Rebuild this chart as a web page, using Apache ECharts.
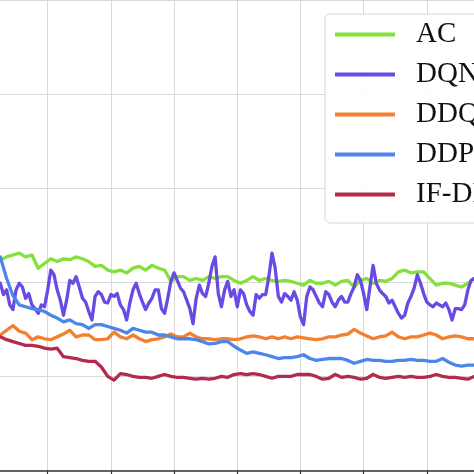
<!DOCTYPE html>
<html>
<head>
<meta charset="utf-8">
<style>
    html, body { margin: 0; padding: 0; background: #fff; }
    #main { width: 474px; height: 474px; }
</style>
<script src="https://cdn.jsdelivr.net/npm/echarts@6/dist/echarts.min.js"></script>
</head>
<body>
<div id="main"></div>
<script>
// episodes (x)
var episodes = [25, 35, 45, 55, 65, 75, 85, 95, 105, 115,
    125, 135, 145, 155, 165, 175, 185, 195, 205, 215,
    225, 235, 245, 255, 265, 275, 285, 295, 305, 315,
    325, 335, 345, 355, 365, 375, 385, 395, 405, 415,
    425, 435, 445, 455, 465, 475, 485, 495, 505, 515,
    525, 535, 545, 555, 565, 575, 585, 595, 605, 615,
    625, 635, 645, 655, 665, 675, 685, 695, 705, 715,
    725, 735, 745, 755, 765, 775];

// DQN is much noisier, so it is read twice as densely
var dqnEpisodes = [25, 30, 35, 40, 45, 50, 55, 60, 65, 70,
    75, 80, 85, 90, 95, 100, 105, 110, 115, 120,
    125, 130, 135, 140, 145, 150, 155, 160, 165, 170,
    175, 180, 185, 190, 195, 200, 205, 210, 215, 220,
    225, 230, 235, 240, 245, 250, 255, 260, 265, 270,
    275, 280, 285, 290, 295, 300, 305, 310, 315, 320,
    325, 330, 335, 340, 345, 350, 355, 360, 365, 370,
    375, 380, 385, 390, 395, 400, 405, 410, 415, 420,
    425, 430, 435, 440, 445, 450, 455, 460, 465, 470,
    475, 480, 485, 490, 495, 500, 505, 510, 515, 520,
    525, 530, 535, 540, 545, 550, 555, 560, 565, 570,
    575, 580, 585, 590, 595, 600, 605, 610, 615, 620,
    625, 630, 635, 640, 645, 650, 655, 660, 665, 670,
    675, 680, 685, 690, 695, 700, 705, 710, 715, 720,
    725, 730, 735, 740, 745, 750, 755, 760, 765, 770,
    775];

var names = ['AC', 'DQN', 'DDQN', 'DDPG', 'IF-DDPG'];
var colors = ['#84e03a', '#6a4ae4', '#f57f2f', '#4c86ea', '#b42a4c'];

var acData = [2.24, 2.27, 2.29, 2.31, 2.27, 2.29, 2.15, 2.20, 2.25, 2.22,
    2.25, 2.24, 2.27, 2.25, 2.22, 2.17, 2.18, 2.13, 2.11, 2.13,
    2.10, 2.15, 2.17, 2.13, 2.18, 2.15, 2.13, 2.01, 2.06, 2.06,
    2.02, 2.04, 2.02, 2.06, 2.04, 2.06, 2.06, 2.02, 1.99, 2.02,
    2.06, 2.02, 2.04, 2.02, 2.01, 2.02, 2.01, 1.99, 1.97, 2.02,
    1.99, 1.99, 2.01, 1.97, 2.01, 2.02, 1.95, 2.02, 2.04, 1.99,
    2.02, 2.01, 2.04, 2.11, 2.13, 2.10, 2.11, 2.11, 2.04, 1.97,
    1.99, 1.99, 1.97, 1.95, 1.99, 2.04];

var dqnData = [1.99, 1.87, 1.92, 1.76, 1.71, 1.92, 1.99, 1.95, 1.83, 1.88,
    1.76, 1.72, 1.67, 1.76, 1.74, 1.92, 2.13, 2.08, 1.92, 1.81,
    1.65, 1.81, 2.02, 1.99, 2.06, 1.95, 1.83, 1.79, 1.69, 1.60,
    1.85, 1.90, 1.87, 1.79, 1.78, 1.87, 1.85, 1.88, 1.76, 1.71,
    1.60, 1.78, 1.92, 1.99, 1.88, 1.79, 1.71, 1.78, 1.83, 1.92,
    1.92, 1.72, 1.67, 1.83, 2.01, 2.10, 2.02, 1.94, 1.90, 1.81,
    1.72, 1.56, 1.83, 1.97, 1.88, 1.85, 1.99, 2.17, 2.27, 1.88,
    1.74, 1.92, 2.01, 1.85, 1.92, 1.74, 1.92, 1.88, 1.76, 1.69,
    1.65, 1.87, 1.83, 1.87, 1.87, 2.06, 2.31, 2.15, 1.85, 1.79,
    1.88, 1.85, 1.81, 1.90, 1.81, 1.63, 1.55, 1.85, 1.95, 1.92,
    1.85, 1.78, 1.74, 1.90, 1.87, 1.79, 1.74, 1.81, 1.85, 1.79,
    1.79, 1.88, 1.95, 2.08, 2.02, 1.88, 1.71, 1.95, 2.18, 1.99,
    1.92, 1.88, 1.85, 1.78, 1.81, 1.74, 1.67, 1.62, 1.65, 1.78,
    1.85, 1.94, 2.08, 1.99, 1.88, 1.79, 1.76, 1.74, 1.78, 1.76,
    1.74, 1.78, 1.71, 1.60, 1.72, 1.72, 1.71, 1.76, 1.92, 2.02,
    2.04];

var ddqnData = [1.44, 1.49, 1.54, 1.48, 1.46, 1.39, 1.42, 1.40, 1.39, 1.42,
    1.45, 1.49, 1.42, 1.44, 1.44, 1.39, 1.39, 1.40, 1.47, 1.42,
    1.40, 1.44, 1.40, 1.37, 1.39, 1.40, 1.42, 1.45, 1.42, 1.42,
    1.46, 1.42, 1.40, 1.40, 1.39, 1.40, 1.40, 1.39, 1.40, 1.42,
    1.43, 1.42, 1.40, 1.42, 1.40, 1.42, 1.40, 1.42, 1.41, 1.40,
    1.39, 1.40, 1.42, 1.42, 1.44, 1.45, 1.50, 1.46, 1.43, 1.40,
    1.42, 1.43, 1.47, 1.42, 1.40, 1.42, 1.42, 1.44, 1.46, 1.44,
    1.40, 1.42, 1.43, 1.42, 1.40, 1.40];

var ddpgData = [2.27, 2.04, 1.86, 1.76, 1.74, 1.72, 1.71, 1.69, 1.65, 1.62,
    1.58, 1.60, 1.56, 1.55, 1.51, 1.55, 1.55, 1.53, 1.51, 1.49,
    1.46, 1.51, 1.49, 1.47, 1.47, 1.44, 1.44, 1.42, 1.40, 1.40,
    1.40, 1.39, 1.37, 1.345, 1.35, 1.37, 1.37, 1.32, 1.28, 1.245,
    1.26, 1.245, 1.23, 1.21, 1.19, 1.20, 1.20, 1.21, 1.23, 1.19,
    1.17, 1.18, 1.19, 1.19, 1.19, 1.17, 1.14, 1.16, 1.18, 1.17,
    1.17, 1.16, 1.16, 1.17, 1.17, 1.18, 1.17, 1.17, 1.16, 1.16,
    1.19, 1.15, 1.12, 1.11, 1.12, 1.12];

var ifDdpgData = [1.42, 1.39, 1.37, 1.35, 1.33, 1.33, 1.32, 1.30, 1.29, 1.30,
    1.21, 1.20, 1.19, 1.17, 1.16, 1.16, 1.10, 1.00, 0.96, 1.03,
    1.02, 1.00, 0.99, 0.99, 0.98, 1.00, 1.02, 1.00, 0.99, 0.99,
    0.98, 0.97, 0.98, 0.97, 0.98, 1.00, 0.99, 1.02, 1.03, 1.02,
    1.03, 1.02, 1.00, 0.98, 1.00, 1.00, 1.00, 1.02, 1.02, 1.02,
    1.00, 0.97, 0.98, 1.02, 0.99, 1.00, 0.99, 0.97, 0.98, 1.02,
    0.99, 0.98, 0.99, 1.00, 0.99, 1.00, 0.99, 0.99, 1.00, 1.02,
    1.00, 0.99, 0.99, 0.98, 0.97, 1.00];

var allData = [acData, dqnData, ddqnData, ddpgData, ifDdpgData];
var allX = [episodes, dqnEpisodes, episodes, episodes, episodes];

function pairs(xs, ys) {
    var out = [];
    for (var i = 0; i < ys.length; i++) {
        out.push([xs[i], ys[i]]);
    }
    return out;
}

var myChart = echarts.init(document.getElementById('main'));

var series = [];
for (var k = 0; k < names.length; k++) {
    series.push({
        name: names[k],
        type: 'line',
        data: pairs(allX[k], allData[k]),
        showSymbol: false,
        lineStyle: { width: 3.3, color: colors[k], join: 'round', cap: 'round' },
        itemStyle: { color: colors[k] }
    });
}

var option = {
    animation: false,
    backgroundColor: '#fff',
    // the picture is a crop: the plot area runs past the image edges
    grid: {
        left: -15.5,
        right: -16,
        top: 0,
        bottom: 3.5,
        containLabel: false,
        outerBoundsMode: 'none'
    },
    legend: {
        orient: 'vertical',
        left: 325,
        top: 14,
        padding: [6, 12, 14, 10],
        itemGap: 11,
        itemWidth: 60,
        itemHeight: 4,
        icon: 'rect',
        backgroundColor: 'rgba(255,255,255,0.9)',
        borderColor: '#d6d6d6',
        borderWidth: 1,
        borderRadius: 5,
        textStyle: {
            fontFamily: 'Liberation Serif',
            fontSize: 29,
            lineHeight: 29,
            color: '#111',
            padding: [0, 0, 0, 16]
        },
        data: names
    },
    xAxis: {
        type: 'value',
        min: 0,
        max: 800,
        interval: 100,
        axisLine: { show: true, onZero: false, lineStyle: { color: '#333', width: 1.5 } },
        axisTick: { show: true, length: 5, lineStyle: { color: '#333', width: 1.2 } },
        axisLabel: { show: false },
        splitLine: { show: true, lineStyle: { color: '#d9d9d9', width: 1 } }
    },
    yAxis: {
        type: 'value',
        min: 0,
        max: 5,
        interval: 1,
        axisLine: { show: false },
        axisTick: { show: false },
        axisLabel: { show: false },
        splitLine: { show: true, lineStyle: { color: '#d9d9d9', width: 1 } }
    },
    series: series
};

myChart.setOption(option);
</script>
</body>
</html>
